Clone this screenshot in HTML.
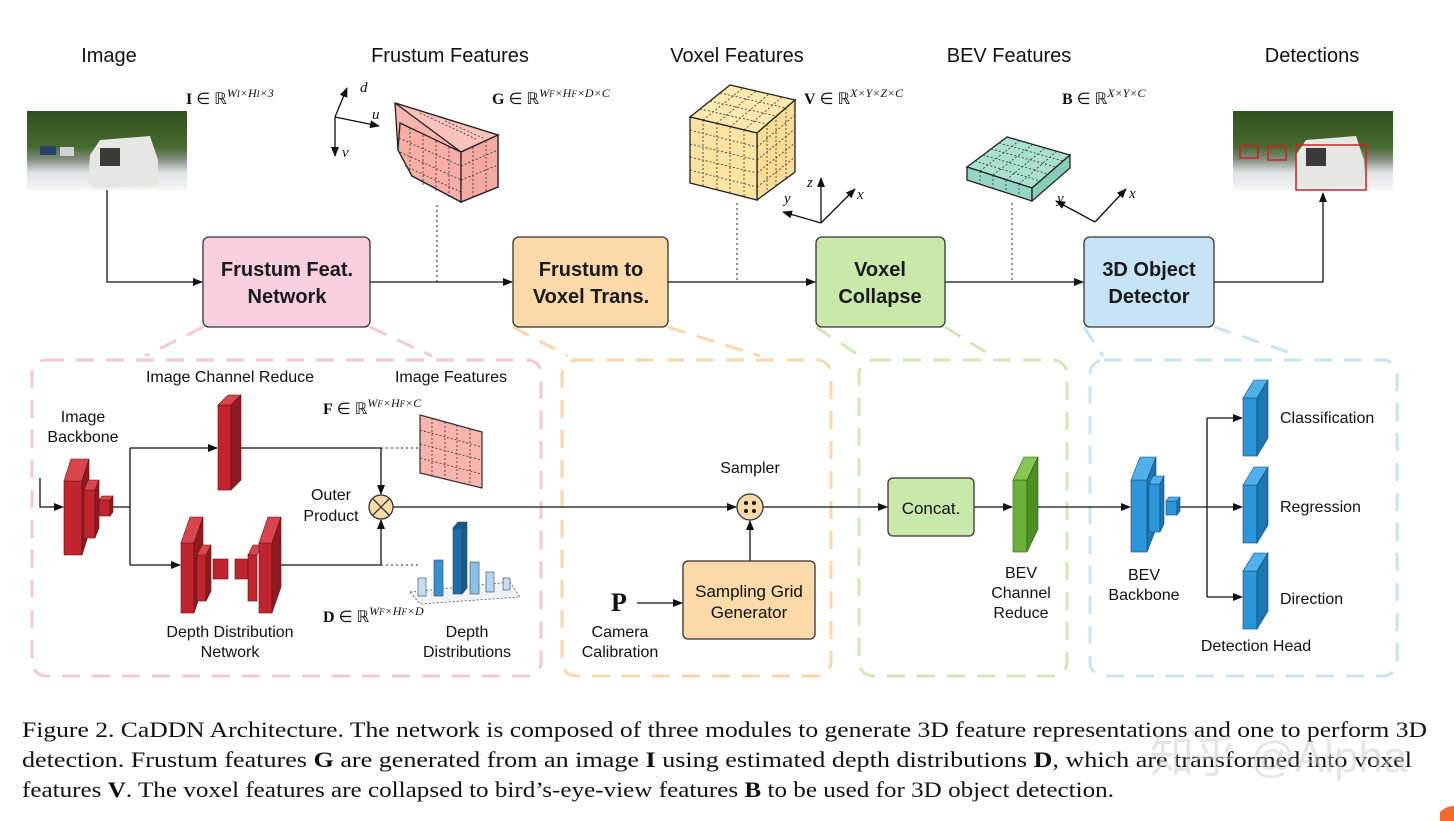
<!DOCTYPE html>
<html><head><meta charset="utf-8"><style>
html,body{margin:0;padding:0;background:#fff;}
svg{display:block;}
.t{font-family:"Liberation Sans",sans-serif;fill:#111;}
.b{font-family:"Liberation Sans",sans-serif;font-weight:bold;fill:#1a1a1a;font-size:20px;}
.m{font-family:"Liberation Serif",serif;fill:#111;}
</style></head><body>
<svg width="1454" height="821" viewBox="0 0 1454 821" xmlns="http://www.w3.org/2000/svg">
<defs>
<marker id="ar" markerWidth="10" markerHeight="8" refX="9" refY="4" orient="auto" markerUnits="userSpaceOnUse"><path d="M0,0 L10,4 L0,8 z" fill="#111"/></marker>
<linearGradient id="ph" x1="0" y1="0" x2="0" y2="1"><stop offset="0" stop-color="#2f5220"/><stop offset="0.45" stop-color="#46692f"/><stop offset="0.6" stop-color="#7d8a78"/><stop offset="0.78" stop-color="#dfe2e4"/><stop offset="1" stop-color="#f4f4f4"/></linearGradient>
</defs>

<g class="t" font-size="20" text-anchor="middle">
<text x="109" y="62">Image</text>
<text x="450" y="62">Frustum Features</text>
<text x="737" y="62">Voxel Features</text>
<text x="1009" y="62">BEV Features</text>
<text x="1312" y="62">Detections</text>
</g>

<g class="m" font-size="16">
<text x="186" y="104"><tspan font-weight="bold">I</tspan> ∈ ℝ<tspan font-size="12" dy="-7" font-style="italic">W<tspan font-size="9">I</tspan>×H<tspan font-size="9">I</tspan>×3</tspan></text>
<text x="492" y="104"><tspan font-weight="bold">G</tspan> ∈ ℝ<tspan font-size="12" dy="-7" font-style="italic">W<tspan font-size="9">F</tspan>×H<tspan font-size="9">F</tspan>×D×C</tspan></text>
<text x="804" y="104"><tspan font-weight="bold">V</tspan> ∈ ℝ<tspan font-size="12" dy="-7" font-style="italic">X×Y×Z×C</tspan></text>
<text x="1062" y="104"><tspan font-weight="bold">B</tspan> ∈ ℝ<tspan font-size="12" dy="-7" font-style="italic">X×Y×C</tspan></text>
</g>

<!-- photos -->
<rect x="27" y="111" width="160" height="79" fill="url(#ph)"/>
<path d="M88,182 L90,155 L100,140 L150,136 L158,160 L158,186 L95,188z" fill="#e6e6e2"/>
<rect x="100" y="148" width="20" height="18" fill="#3a3a3a"/>
<rect x="40" y="146" width="16" height="9" fill="#2b3f6a"/>
<rect x="60" y="147" width="14" height="9" fill="#cfd2d6"/>
<rect x="1233" y="111" width="160" height="79" fill="url(#ph)"/>
<path d="M1294,182 L1296,155 L1306,140 L1356,136 L1364,160 L1364,186 L1301,188z" fill="#e6e6e2"/>
<rect x="1306" y="148" width="20" height="18" fill="#3a3a3a"/>
<rect x="1296" y="145" width="70" height="45" fill="none" stroke="#d02020" stroke-width="1.5"/>
<rect x="1240" y="146" width="18" height="12" fill="none" stroke="#d02020" stroke-width="1.5"/>
<rect x="1268" y="146" width="18" height="14" fill="none" stroke="#d02020" stroke-width="1.5"/>

<g stroke="#111" stroke-width="1.3" fill="none">
<line x1="335" y1="117" x2="347" y2="88" marker-end="url(#ar)"/>
<line x1="335" y1="117" x2="379" y2="126" marker-end="url(#ar)"/>
<line x1="335" y1="117" x2="335" y2="156" marker-end="url(#ar)"/>
</g>
<g class="m" font-size="15" font-style="italic"><text x="360" y="92">d</text><text x="372" y="119">u</text><text x="342" y="157">v</text></g>
<g stroke="#222" stroke-width="1.3">
<path d="M395,103 L498,135 L498,187 L461,202 L412,176 L398,150z" fill="#f7b5ae"/>
<path d="M395,103 L461,152 L498,135 z" fill="#f9c2bb"/>
<path d="M400,123 L461,152 L461,202 L412,176 L398,150z" fill="#f6aea6"/>
<path d="M461,152 L498,135 L498,187 L461,202z" fill="#f4a9a1"/>
</g>
<g stroke="#333" stroke-width="0.8" stroke-dasharray="2,2" fill="none">
<path d="M410,128 L410,176 M423,135 L423,186 M436,141 L436,192 M449,147 L449,197 M399,138 L461,166 M400,152 L461,180 M405,166 L461,192 M473,147 L473,197 M486,141 L486,192 M461,166 L498,150 M461,180 L498,165 M420,113 L478,140 M445,121 L483,138"/>
</g>

<g stroke="#222" stroke-width="1.3">
<path d="M690,117 L730,85 L795,100 L757,133z" fill="#fde9ad"/>
<path d="M757,133 L795,100 L795,172 L757,200z" fill="#f8dc95"/>
<path d="M690,117 L757,133 L757,200 L690,183z" fill="#fbe3a2"/>
</g>
<g stroke="#333" stroke-width="0.8" stroke-dasharray="2,2" fill="none">
<path d="M703,120 L703,186 M717,123 L717,189 M730,127 L730,193 M744,130 L744,196 M690,130 L757,147 M690,144 L757,160 M690,157 L757,173 M690,170 L757,187 M767,124 L767,193 M776,116 L776,186 M786,108 L786,179 M757,147 L795,115 M757,160 L795,129 M757,173 L795,143 M757,187 L795,157 M700,109 L767,124 M710,101 L776,116 M720,93 L786,108 M703,120 L743,88 M717,123 L756,91 M730,127 L769,94 M744,130 L782,97"/>
</g>
<g stroke="#111" stroke-width="1.3" fill="none">
<line x1="821" y1="223" x2="821" y2="178" marker-end="url(#ar)"/>
<line x1="821" y1="223" x2="855" y2="189" marker-end="url(#ar)"/>
<line x1="821" y1="223" x2="783" y2="212" marker-end="url(#ar)"/>
</g>
<g class="m" font-size="15" font-style="italic"><text x="807" y="187">z</text><text x="857" y="199">x</text><text x="784" y="203">y</text></g>

<g stroke="#222" stroke-width="1.3">
<path d="M967,167 L1007,137 L1070,155 L1032,188z" fill="#a9e0d2"/>
<path d="M967,167 L1032,188 L1032,201 L967,180z" fill="#96d6c6"/>
<path d="M1032,188 L1070,155 L1070,168 L1032,201z" fill="#88cdbc"/>
</g>
<g stroke="#333" stroke-width="0.8" stroke-dasharray="2,2" fill="none">
<path d="M980,171 L1019,141 M993,175 L1032,145 M1006,180 L1045,148 M1019,184 L1057,151 M975,161 L1040,181 M983,155 L1048,174 M991,149 L1056,167 M999,143 L1063,161 M980,171 L980,184 M993,175 L993,188 M1006,180 L1006,193 M1019,184 L1019,197"/>
</g>
<g stroke="#111" stroke-width="1.3" fill="none">
<line x1="1095" y1="222" x2="1126" y2="189" marker-end="url(#ar)"/>
<line x1="1095" y1="222" x2="1056" y2="201" marker-end="url(#ar)"/>
</g>
<g class="m" font-size="15" font-style="italic"><text x="1129" y="198">x</text><text x="1057" y="203">y</text></g>

<g stroke="#222" stroke-width="1" stroke-dasharray="2,3">
<line x1="437" y1="205" x2="437" y2="282"/><line x1="737" y1="203" x2="737" y2="282"/><line x1="1012" y1="203" x2="1012" y2="282"/>
</g>

<g stroke="#111" stroke-width="1.3" fill="none">
<path d="M107,190 L107,282 L202,282" marker-end="url(#ar)"/>
<line x1="370" y1="282" x2="512" y2="282" marker-end="url(#ar)"/>
<line x1="668" y1="282" x2="815" y2="282" marker-end="url(#ar)"/>
<line x1="945" y1="282" x2="1083" y2="282" marker-end="url(#ar)"/>
<path d="M1214,282 L1323,282 L1323,193" marker-end="url(#ar)"/>
</g>
<g stroke="#333" stroke-width="1.3">
<rect x="203" y="237" width="167" height="90" rx="6" fill="#f7cfe0"/>
<rect x="513" y="237" width="155" height="90" rx="6" fill="#fcd9a8"/>
<rect x="816" y="237" width="129" height="90" rx="6" fill="#c8e9aa"/>
<rect x="1084" y="237" width="130" height="90" rx="6" fill="#c6e4f6"/>
</g>
<g class="b" text-anchor="middle">
<text x="287" y="276">Frustum Feat.</text><text x="287" y="303">Network</text>
<text x="591" y="276">Frustum to</text><text x="591" y="303">Voxel Trans.</text>
<text x="880" y="276">Voxel</text><text x="880" y="303">Collapse</text>
<text x="1149" y="276">3D Object</text><text x="1149" y="303">Detector</text>
</g>

<g fill="none" stroke-width="3" stroke-dasharray="18,12">
<g stroke="#f5c8d8"><rect x="32" y="360" width="509" height="316" rx="14"/><path d="M203,327 L145,356 M370,327 L432,356"/></g>
<g stroke="#fad7aa"><rect x="562" y="360" width="269" height="316" rx="14"/><path d="M513,327 L568,356 M668,327 L760,356"/></g>
<g stroke="#d2e8b6"><rect x="859" y="360" width="208" height="316" rx="14"/><path d="M816,327 L860,356 M945,327 L992,356"/></g>
<g stroke="#c8e3f3"><rect x="1090" y="360" width="307" height="316" rx="14"/><path d="M1084,327 L1103,356 M1214,327 L1300,356"/></g>
</g>

<g class="t" font-size="16" text-anchor="middle">
<text x="230" y="382">Image Channel Reduce</text>
<text x="451" y="382">Image Features</text>
<text x="83" y="422">Image</text><text x="83" y="442">Backbone</text>
<text x="331" y="500">Outer</text><text x="331" y="521">Product</text>
<text x="230" y="637">Depth Distribution</text><text x="230" y="657">Network</text>
<text x="467" y="637">Depth</text><text x="467" y="657">Distributions</text>
<text x="750" y="473">Sampler</text>
<text x="620" y="637">Camera</text><text x="620" y="657">Calibration</text>
<text x="1021" y="578">BEV</text><text x="1021" y="598">Channel</text><text x="1021" y="618">Reduce</text>
<text x="1144" y="580">BEV</text><text x="1144" y="600">Backbone</text>
<text x="1256" y="651">Detection Head</text>
</g>
<g class="t" font-size="16">
<text x="1280" y="423">Classification</text><text x="1280" y="512">Regression</text><text x="1280" y="604">Direction</text>
</g>
<g class="m" font-size="16">
<text x="323" y="414"><tspan font-weight="bold">F</tspan> ∈ ℝ<tspan font-size="12" dy="-7" font-style="italic">W<tspan font-size="9">F</tspan>×H<tspan font-size="9">F</tspan>×C</tspan></text>
<text x="323" y="622"><tspan font-weight="bold">D</tspan> ∈ ℝ<tspan font-size="12" dy="-7" font-style="italic">W<tspan font-size="9">F</tspan>×H<tspan font-size="9">F</tspan>×D</tspan></text>
<text x="611" y="611" font-size="26" font-weight="bold">P</text>
</g>

<g stroke="#111" stroke-width="1.3" fill="none">
<path d="M40,478 L40,507 L63,507" marker-end="url(#ar)"/>
<path d="M113,507 L130,507 M130,448 L130,565"/>
<line x1="130" y1="448" x2="217" y2="448" marker-end="url(#ar)"/>
<line x1="130" y1="565" x2="180" y2="565" marker-end="url(#ar)"/>
<path d="M241,448 L381,448 L381,494" marker-end="url(#ar)"/>
<path d="M280,565 L381,565 L381,520" marker-end="url(#ar)"/>
<line x1="393" y1="507" x2="736" y2="507" marker-end="url(#ar)"/>
<line x1="637" y1="603" x2="682" y2="603" marker-end="url(#ar)"/>
<line x1="750" y1="561" x2="750" y2="521" marker-end="url(#ar)"/>
<line x1="763" y1="507" x2="887" y2="507" marker-end="url(#ar)"/>
<line x1="974" y1="507" x2="1012" y2="507" marker-end="url(#ar)"/>
<line x1="1030" y1="507" x2="1130" y2="507" marker-end="url(#ar)"/>
<path d="M1180,507 L1207,507 M1207,418 L1207,597"/>
<line x1="1207" y1="418" x2="1242" y2="418" marker-end="url(#ar)"/>
<line x1="1207" y1="507" x2="1242" y2="507" marker-end="url(#ar)"/>
<line x1="1207" y1="597" x2="1242" y2="597" marker-end="url(#ar)"/>
</g>
<g stroke="#222" stroke-width="1" stroke-dasharray="2,3"><line x1="381" y1="448" x2="420" y2="448"/><line x1="381" y1="565" x2="420" y2="565"/></g>

<g stroke="#333" stroke-width="1.3">
<circle cx="381" cy="507" r="12" fill="#fbd9a8"/>
<path d="M373,499 L389,515 M389,499 L373,515"/>
<circle cx="750" cy="507" r="13" fill="#fbd9a8"/>
</g>
<g fill="#111"><circle cx="746" cy="503" r="2"/><circle cx="754" cy="503" r="2"/><circle cx="746" cy="511" r="2"/><circle cx="754" cy="511" r="2"/></g>
<rect x="683" y="561" width="132" height="78" rx="5" fill="#fbd9a8" stroke="#333" stroke-width="1.3"/>
<g class="t" font-size="17" text-anchor="middle"><text x="749" y="597">Sampling Grid</text><text x="749" y="618">Generator</text></g>
<rect x="888" y="478" width="86" height="58" rx="5" fill="#c8e9aa" stroke="#333" stroke-width="1.3"/>
<text x="931" y="514" class="t" font-size="17" text-anchor="middle">Concat.</text>

<path d="M420,415 L482,432 L482,488 L420,473z" fill="#f7b5ae" stroke="#333" stroke-width="1.2"/>
<g stroke="#333" stroke-width="0.8" stroke-dasharray="2,2" fill="none"><path d="M432,418 L432,476 M445,422 L445,479 M457,425 L457,482 M470,429 L470,485 M420,430 L482,447 M420,444 L482,460 M420,458 L482,474"/></g>

<path d="M410,592 L510,582 L520,597 L420,604z" fill="#eef2f6" stroke="#555" stroke-width="0.8" stroke-dasharray="2,2"/>
<g stroke="#345" stroke-width="0.6">
<rect x="418" y="578" width="8" height="18" fill="#c6dff2"/>
<rect x="434" y="560" width="9" height="36" fill="#3b8ed0"/>
<rect x="453" y="528" width="9" height="66" fill="#1f6aa8"/><path d="M453,528 L458,522 L467,522 L462,528z M462,528 L467,522 L467,588 L462,594z" fill="#185a90"/>
<rect x="470" y="562" width="9" height="32" fill="#8ec0e6"/>
<rect x="486" y="572" width="8" height="20" fill="#b4d6f0"/>
<rect x="503" y="578" width="7" height="12" fill="#c6dff2"/>
</g>

<g stroke="#6a0f15" stroke-width="0.6">
<rect x="64" y="481" width="18" height="74" fill="#c0242e"/><path d="M64,481 L71,459 L89,459 L82,481z" fill="#d9454d"/><path d="M82,481 L89,459 L89,533 L82,555z" fill="#8f1a22"/>
<rect x="84" y="490" width="11" height="48" fill="#c0242e"/><path d="M84,490 L88,480 L99,480 L95,490z" fill="#d9454d"/><path d="M95,490 L99,480 L99,528 L95,538z" fill="#8f1a22"/>
<rect x="99" y="500" width="11" height="16" fill="#c0242e"/><path d="M99,500 L102,496 L113,496 L110,500z" fill="#d9454d"/><path d="M110,500 L113,496 L113,512 L110,516z" fill="#8f1a22"/>
<rect x="218" y="405" width="13" height="85" fill="#c0242e"/><path d="M218,405 L228,395 L241,395 L231,405z" fill="#d9454d"/><path d="M231,405 L241,395 L241,480 L231,490z" fill="#8f1a22"/>
<rect x="181" y="543" width="13" height="70" fill="#c0242e"/><path d="M181,543 L190,517 L203,517 L194,543z" fill="#d9454d"/><path d="M194,543 L203,517 L203,587 L194,613z" fill="#8f1a22"/>
<rect x="197" y="555" width="9" height="46" fill="#c0242e"/><path d="M197,555 L202,545 L211,545 L206,555z" fill="#d9454d"/><path d="M206,555 L211,545 L211,591 L206,601z" fill="#8f1a22"/>
<rect x="213" y="559" width="15" height="20" fill="#c0242e"/>
<rect x="235" y="559" width="13" height="20" fill="#c0242e"/>
<rect x="248" y="555" width="9" height="46" fill="#c0242e"/><path d="M248,555 L253,545 L262,545 L257,555z" fill="#d9454d"/>
<rect x="259" y="543" width="13" height="70" fill="#c0242e"/><path d="M259,543 L268,517 L281,517 L272,543z" fill="#d9454d"/><path d="M272,543 L281,517 L281,587 L272,613z" fill="#8f1a22"/>
</g>

<g stroke="#2e5a12" stroke-width="0.6">
<rect x="1013" y="480" width="14" height="72" fill="#6ab23a"/><path d="M1013,480 L1024,457 L1038,457 L1027,480z" fill="#86c756"/><path d="M1027,480 L1038,457 L1038,529 L1027,552z" fill="#4e8f25"/>
</g>
<g stroke="#0d4a78" stroke-width="0.6">
<rect x="1131" y="480" width="16" height="72" fill="#2d96d8"/><path d="M1131,480 L1140,457 L1156,457 L1147,480z" fill="#4fb0ea"/><path d="M1147,480 L1156,457 L1156,529 L1147,552z" fill="#1b76b4"/>
<rect x="1149" y="484" width="11" height="48" fill="#2d96d8"/><path d="M1149,484 L1153,476 L1164,476 L1160,484z" fill="#4fb0ea"/><path d="M1160,484 L1164,476 L1164,524 L1160,532z" fill="#1b76b4"/>
<rect x="1166" y="501" width="11" height="14" fill="#2d96d8"/><path d="M1166,501 L1169,497 L1180,497 L1177,501z" fill="#4fb0ea"/><path d="M1177,501 L1180,497 L1180,511 L1177,515z" fill="#1b76b4"/>
<rect x="1243" y="398" width="14" height="58" fill="#2d96d8"/><path d="M1243,398 L1254,380 L1268,380 L1257,398z" fill="#4fb0ea"/><path d="M1257,398 L1268,380 L1268,438 L1257,456z" fill="#1b76b4"/>
<rect x="1243" y="485" width="14" height="58" fill="#2d96d8"/><path d="M1243,485 L1254,467 L1268,467 L1257,485z" fill="#4fb0ea"/><path d="M1257,485 L1268,467 L1268,525 L1257,543z" fill="#1b76b4"/>
<rect x="1243" y="571" width="14" height="58" fill="#2d96d8"/><path d="M1243,571 L1254,553 L1268,553 L1257,571z" fill="#4fb0ea"/><path d="M1257,571 L1268,553 L1268,611 L1257,629z" fill="#1b76b4"/>
</g>

<g class="m" font-size="22">
<text x="22" y="737" textLength="1405" lengthAdjust="spacingAndGlyphs">Figure 2. CaDDN Architecture. The network is composed of three modules to generate 3D feature representations and one to perform 3D</text>
<text x="22" y="767" textLength="1390" lengthAdjust="spacingAndGlyphs">detection.  Frustum features <tspan font-weight="bold">G</tspan> are generated from an image <tspan font-weight="bold">I</tspan> using estimated depth distributions <tspan font-weight="bold">D</tspan>, which are transformed into voxel</text>
<text x="22" y="797" textLength="1092" lengthAdjust="spacingAndGlyphs">features <tspan font-weight="bold">V</tspan>. The voxel features are collapsed to bird’s-eye-view features <tspan font-weight="bold">B</tspan> to be used for 3D object detection.</text>
</g>
<text x="1150" y="772" font-family="'Liberation Sans','Noto Sans CJK SC',sans-serif" font-size="44" fill="#cccccc" fill-opacity="0.5">知乎 @Alpha</text>
<path d="M1440,821 L1440,812 Q1446,806 1454,806 L1454,821z" fill="#f06a2a"/>
</svg>
</body></html>
